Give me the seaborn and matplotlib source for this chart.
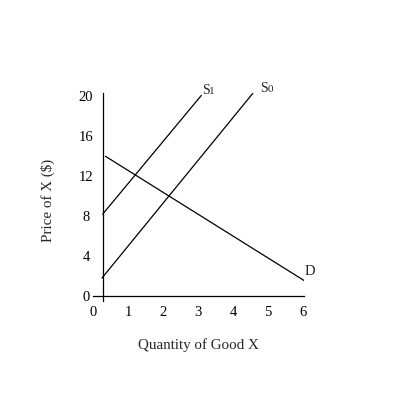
import matplotlib
matplotlib.use("Agg")
import matplotlib.pyplot as plt
import seaborn as sns
import pandas as pd

# curve end points (quantity, price)
s1_q = [0.27, 3.09]
s1_p = [8.2, 20.1]
s0_q = [0.25, 4.56]
s0_p = [1.8, 20.3]
d_q = [0.35, 6.05]
d_p = [14.0, 1.5]

x_ticks = [0, 1, 2, 3, 4, 5, 6]
y_ticks = [0, 4, 8, 12, 16, 20]

sns.set_style("white")
plt.rcParams['font.family'] = ['Liberation Serif', 'DejaVu Serif']

fig = plt.figure(figsize=(4, 4), dpi=100)
ax = fig.add_axes([0.233, 0.2475, 0.5275, 0.519])

curves = pd.concat([
    pd.DataFrame({'q': s1_q, 'p': s1_p, 'curve': 'S1'}),
    pd.DataFrame({'q': s0_q, 'p': s0_p, 'curve': 'S0'}),
    pd.DataFrame({'q': d_q, 'p': d_p, 'curve': 'D'}),
])
sns.lineplot(data=curves, x='q', y='p', units='curve', estimator=None,
             color='black', linewidth=0.9, ax=ax, legend=False)

ax.set_xlim(0.13, 6.03)
ax.set_ylim(-0.5, 20.3)
ax.spines['top'].set_visible(False)
ax.spines['right'].set_visible(False)
ax.spines['left'].set_position(('data', 0.27))
ax.spines['bottom'].set_position(('data', 0))
for s in ['left', 'bottom']:
    ax.spines[s].set_color('black')
    ax.spines[s].set_linewidth(0.9)

ax.set_xticks(x_ticks)
ax.set_yticks(y_ticks)
ax.set_yticklabels([str(v) for v in y_ticks], ha='center')
ax.tick_params(axis='both', length=0, labelsize=10.5, colors='black')
ax.tick_params(axis='y', pad=12)
ax.tick_params(axis='x', pad=7)
ax.set_xlabel('')
ax.set_ylabel('')

# curve labels
ax.text(3.22, 20.6, 'S', fontsize=10, ha='center', va='center', clip_on=False)
ax.text(3.38, 20.45, '1', fontsize=8, ha='center', va='center', clip_on=False)
ax.text(4.88, 20.8, 'S', fontsize=10, ha='center', va='center', clip_on=False)
ax.text(5.05, 20.65, '0', fontsize=8, ha='center', va='center', clip_on=False)
ax.text(6.18, 2.5, 'D', fontsize=10.5, ha='center', va='center', clip_on=False)

fig.text(0.495, 0.1375, 'Quantity of Good X', fontsize=10.8, ha='center', va='center')
fig.text(0.12, 0.5, 'Price of X ($)', fontsize=10.8, ha='center', va='center', rotation=90)

fig.savefig('out.png', dpi=100)
